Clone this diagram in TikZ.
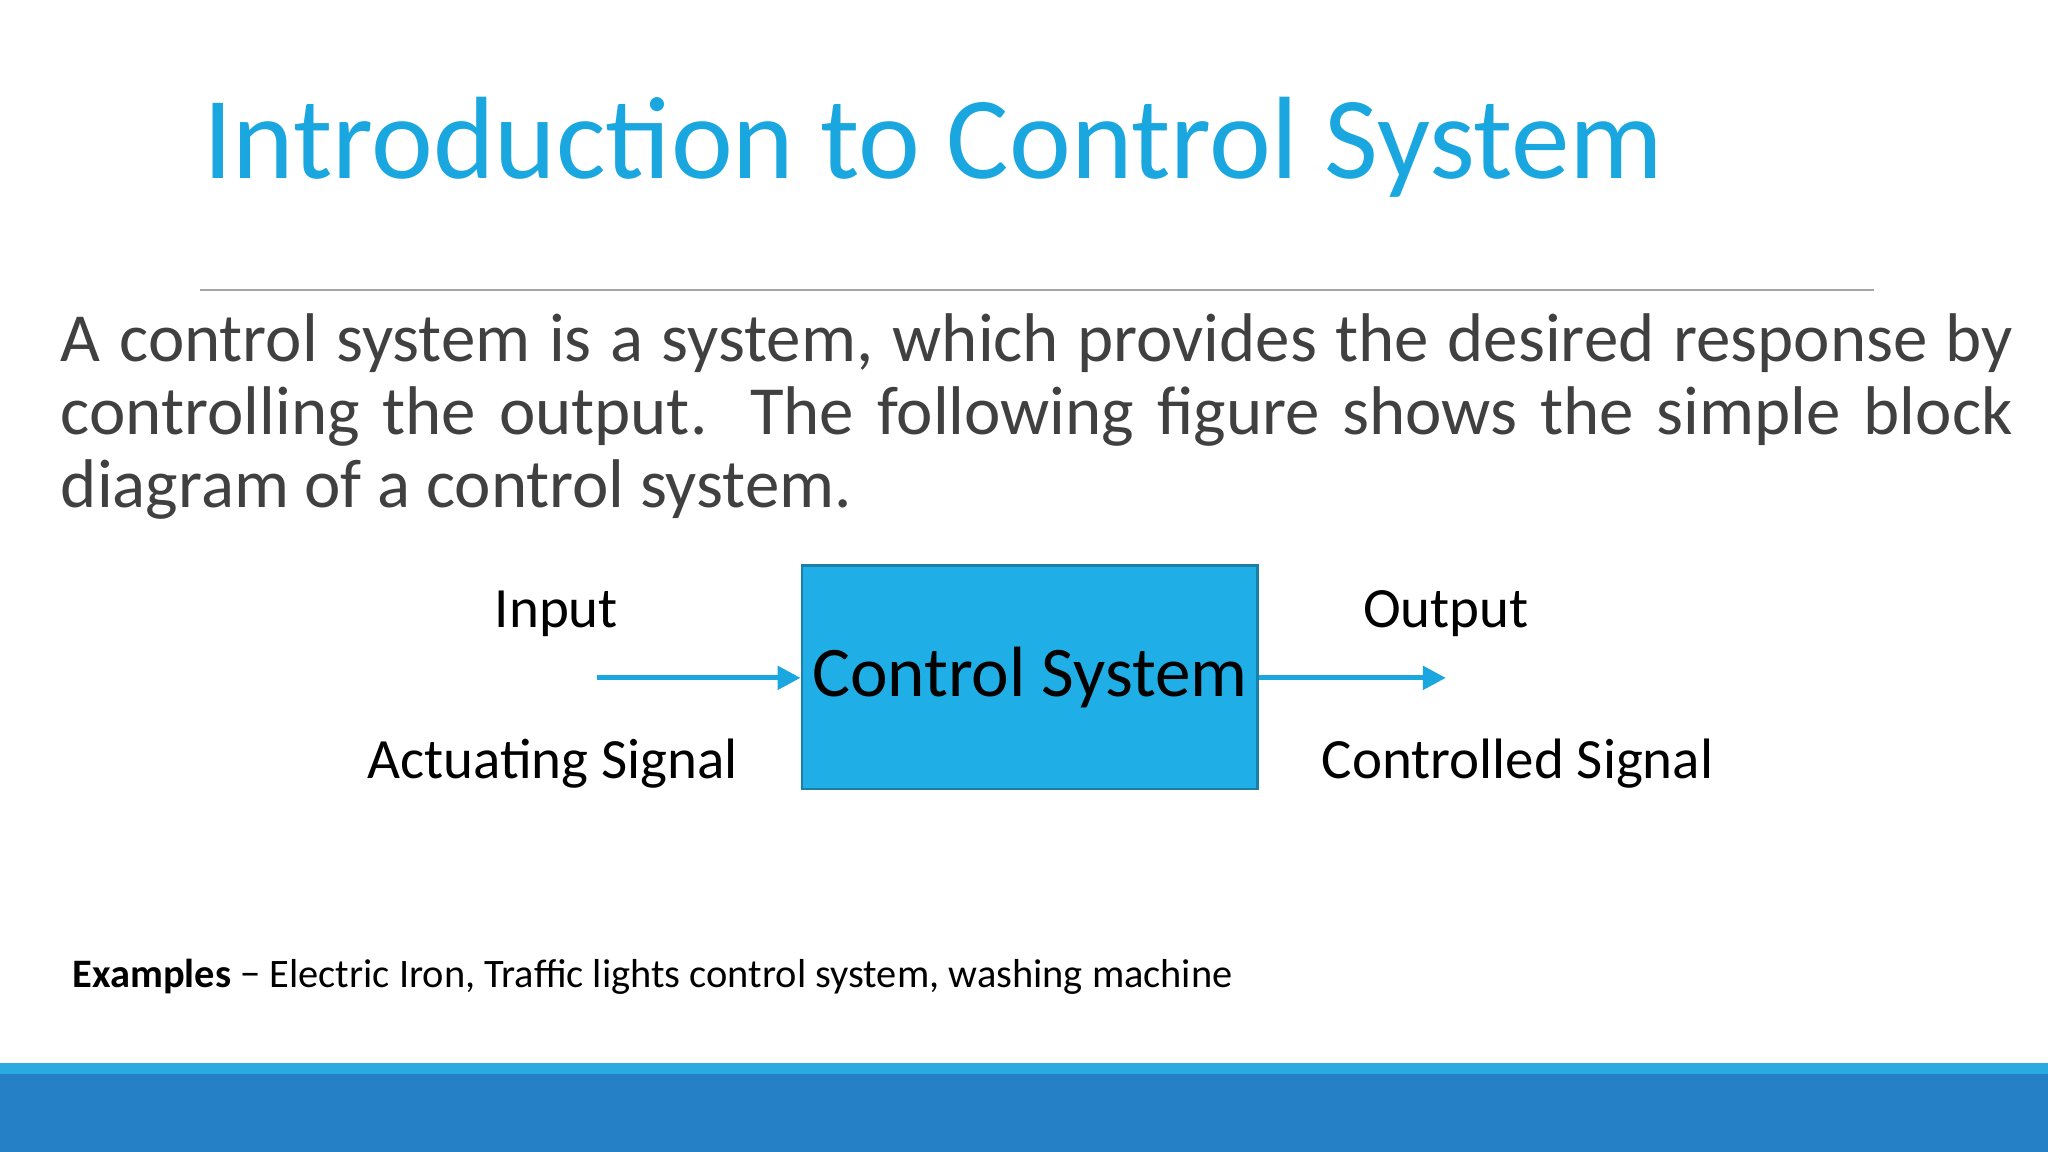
\documentclass[tikz,border=0pt]{standalone}
\usepackage{fontspec}
\setmainfont{Carlito}
\usetikzlibrary{arrows.meta}
\definecolor{titleblue}{HTML}{1AA7E0}
\definecolor{boxblue}{HTML}{1FAEE5}
\definecolor{boxedge}{HTML}{1B7FA8}
\definecolor{bodygray}{HTML}{404040}
\definecolor{barlight}{HTML}{29ABE2}
\definecolor{bardark}{HTML}{2680C5}
\tikzset{
  lbl/.style={font=\fontsize{12.4}{14}\selectfont, text=black},
  sig/.style={draw=titleblue, line width=1.1pt, -{Triangle[length=5pt,width=5pt]}}
}
\begin{document}
\begin{tikzpicture}[x=0.01cm,y=-0.01cm]
\useasboundingbox (0,0) rectangle (1568,882);
\fill[white] (0,0) rectangle (1568,882);
\node[anchor=base west, inner sep=0, text=titleblue, font=\fontsize{25.5}{30}\selectfont] (title) at (155,137) {Introduction to Control System};
\draw[gray!70, line width=0.5pt] (153,222) coordinate (r1) -- (1435,222) coordinate (r2);
\node[anchor=base west, inner sep=0, text=bodygray, text width=425pt, align=justify, font=\fontsize{15}{15.9}\selectfont] (body) at (46,277) {A control system is a system, which provides the desired response by controlling the output. The following figure shows the simple block diagram of a control system.};
\node[draw=boxedge, fill=boxblue, line width=0.6pt, minimum width=349*0.01cm, minimum height=171*0.01cm, inner sep=0, font=\fontsize{15.5}{18}\selectfont] (cs) at (788.5,518.5) {Control System};
\coordinate (in) at (457,519);
\coordinate (out) at (1107,519);
\draw[sig] (in) -- (cs.west |- in);
\draw[sig] (cs.east |- out) -- (out);
\node[lbl] (input) at (426,470) {Input};
\node[lbl] (act) at (423,585) {Actuating Signal};
\node[lbl] (output) at (1107,470) {Output};
\node[lbl] (ctrl) at (1162,585) {Controlled Signal};
\node[anchor=base west, inner sep=0, font=\fontsize{8.8}{10}\selectfont] (ex) at (55,756) {\textbf{Examples} − Electric Iron, Traffic lights control system, washing machine};
\fill[barlight] (0,814) rectangle (1568,822);
\fill[bardark] (0,822) rectangle (1568,882);
\end{tikzpicture}
\end{document}
